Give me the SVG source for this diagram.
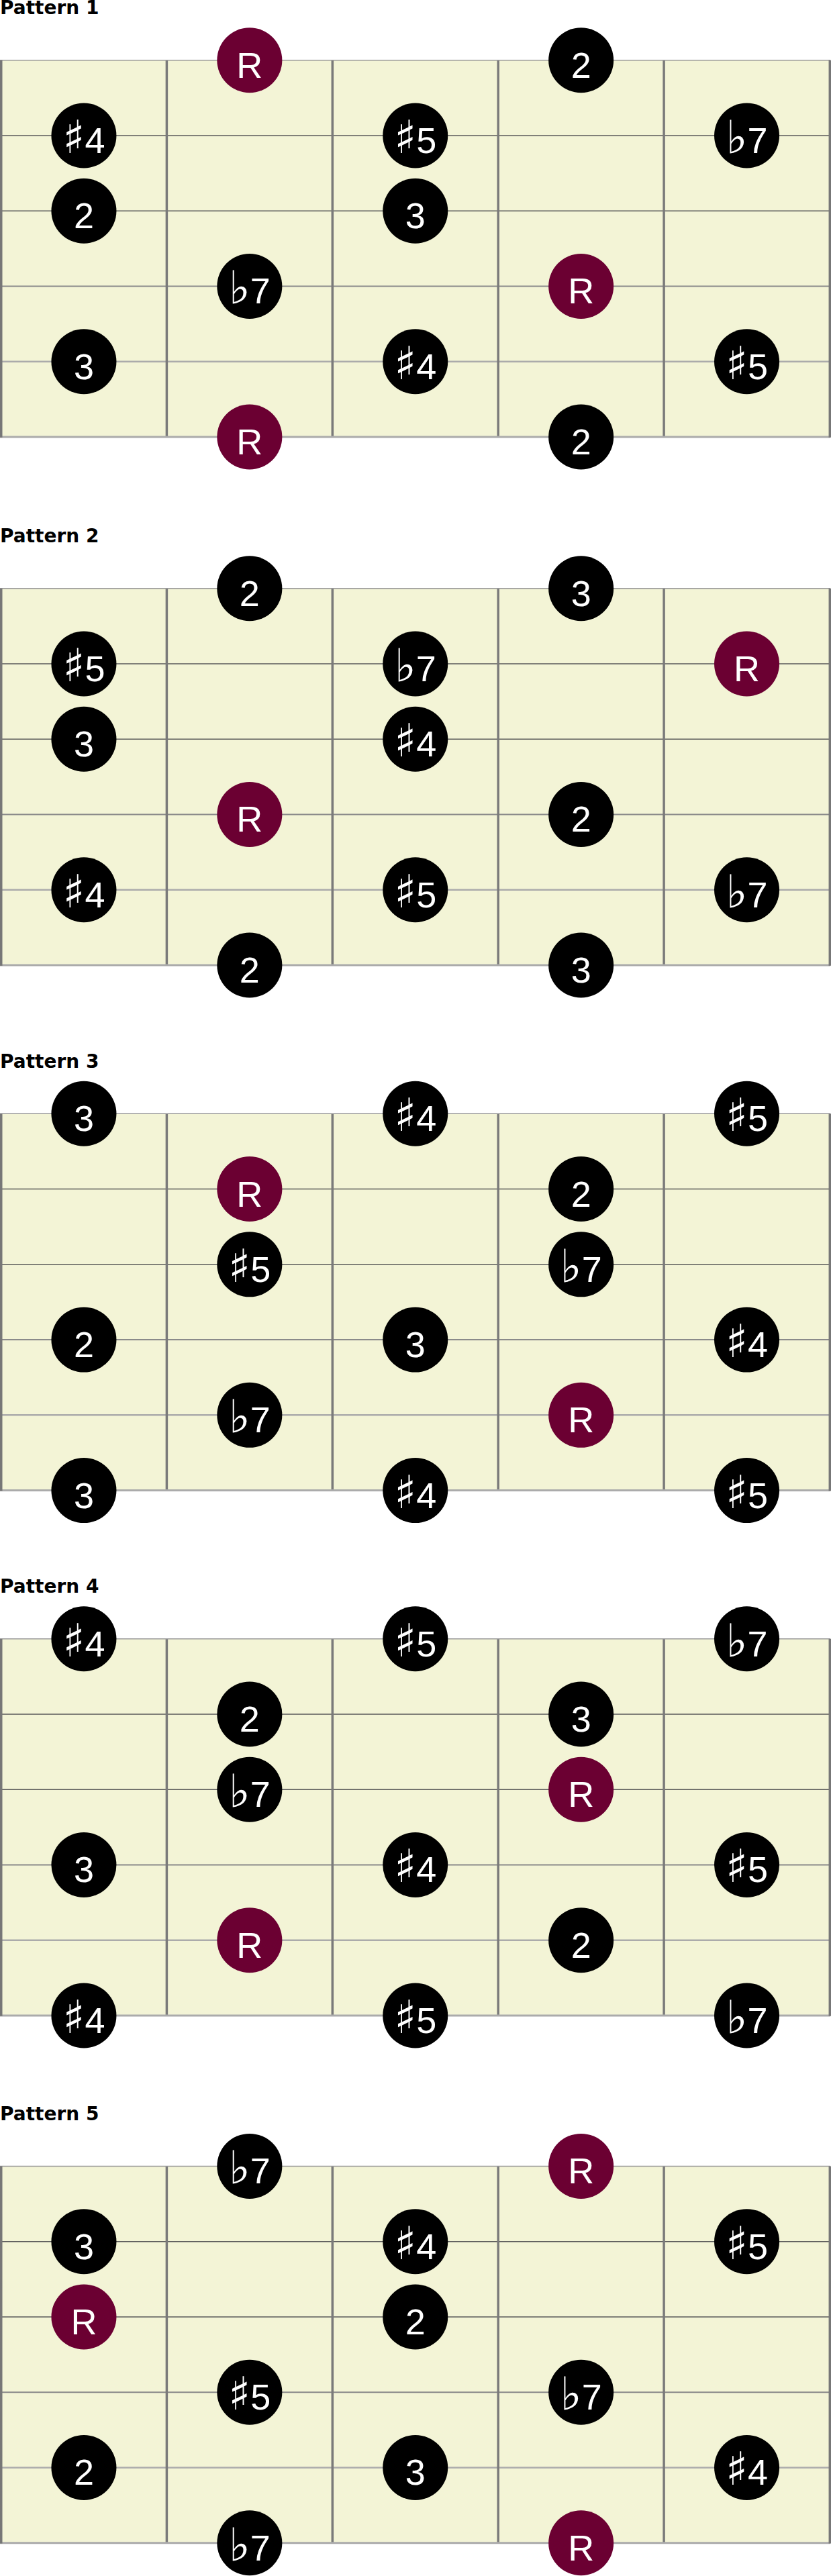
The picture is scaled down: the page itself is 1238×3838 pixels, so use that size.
<svg xmlns="http://www.w3.org/2000/svg" xmlns:xlink="http://www.w3.org/1999/xlink" width="1238" height="3838" viewBox="0 0 1238 3838">
<style>
.title{font-family:"DejaVu Sans","Verdana",sans-serif;font-weight:bold;font-size:28px;fill:#000}
.bg{fill:#F3F4D6}
.fret{stroke:#7A7A7A;stroke-width:3.5}
.edge{stroke:#777;stroke-width:3.5}
.s0{stroke:#999;stroke-width:1.5}
.s1{stroke:#5A5A5A;stroke-width:1.5}
.s2{stroke:#5A5A5A;stroke-width:1.5}
.s3{stroke:#8A8A8A;stroke-width:2}
.s4{stroke:#ABABAB;stroke-width:2.5}
.s5{stroke:#ABABAB;stroke-width:3}
.dot{fill:#000}
.root{fill:#6B0032}
.lbl{font-family:"Liberation Sans","DejaVu Sans",sans-serif;font-size:54px;fill:#fff;text-anchor:middle}
.acc{font-family:"DejaVu Sans",sans-serif;font-size:68px}
</style>
<defs>
<g id="board">
<rect class="bg" x="1.5" y="0" width="1234.5" height="561.3"/>
<line class="s1" x1="0" y1="112.26" x2="1236" y2="112.26"/>
<line class="s2" x1="0" y1="224.52" x2="1236" y2="224.52"/>
<line class="s3" x1="0" y1="336.78" x2="1236" y2="336.78"/>
<line class="s4" x1="0" y1="449.04" x2="1236" y2="449.04"/>
<line class="fret" x1="248.4" y1="0" x2="248.4" y2="561.3"/>
<line class="fret" x1="495.3" y1="0" x2="495.3" y2="561.3"/>
<line class="fret" x1="742.2" y1="0" x2="742.2" y2="561.3"/>
<line class="fret" x1="989.1" y1="0" x2="989.1" y2="561.3"/>
<line class="s0" x1="0" y1="0" x2="1237" y2="0"/>
<line class="s5" x1="0" y1="561.3" x2="1237" y2="561.3"/>
<line class="edge" x1="1.75" y1="0" x2="1.75" y2="562"/>
<line class="edge" x1="1236.3" y1="0" x2="1236.3" y2="562"/>
</g>
</defs>

<g id="pattern1" transform="translate(0,89.7)">
<text class="title" x="0" y="-68.5">Pattern 1</text>
<use xlink:href="#board" href="#board"/>
<g id="p1-n1"><circle class="root" cx="371.85" cy="0" r="48.5"/><text class="lbl" x="371.85" y="26">R</text></g>
<g id="p1-n2"><circle class="dot" cx="865.65" cy="0" r="48.5"/><text class="lbl" x="865.65" y="26">2</text></g>
<g id="p1-n3"><circle class="dot" cx="124.95" cy="112.26" r="48.5"/><text class="lbl" x="124.95" y="138.26"><tspan class="acc">♯</tspan>4</text></g>
<g id="p1-n4"><circle class="dot" cx="618.75" cy="112.26" r="48.5"/><text class="lbl" x="618.75" y="138.26"><tspan class="acc">♯</tspan>5</text></g>
<g id="p1-n5"><circle class="dot" cx="1112.55" cy="112.26" r="48.5"/><text class="lbl" x="1112.55" y="138.26"><tspan class="acc">♭</tspan>7</text></g>
<g id="p1-n6"><circle class="dot" cx="124.95" cy="224.52" r="48.5"/><text class="lbl" x="124.95" y="250.52">2</text></g>
<g id="p1-n7"><circle class="dot" cx="618.75" cy="224.52" r="48.5"/><text class="lbl" x="618.75" y="250.52">3</text></g>
<g id="p1-n8"><circle class="dot" cx="371.85" cy="336.78" r="48.5"/><text class="lbl" x="371.85" y="362.78"><tspan class="acc">♭</tspan>7</text></g>
<g id="p1-n9"><circle class="root" cx="865.65" cy="336.78" r="48.5"/><text class="lbl" x="865.65" y="362.78">R</text></g>
<g id="p1-n10"><circle class="dot" cx="124.95" cy="449.04" r="48.5"/><text class="lbl" x="124.95" y="475.04">3</text></g>
<g id="p1-n11"><circle class="dot" cx="618.75" cy="449.04" r="48.5"/><text class="lbl" x="618.75" y="475.04"><tspan class="acc">♯</tspan>4</text></g>
<g id="p1-n12"><circle class="dot" cx="1112.55" cy="449.04" r="48.5"/><text class="lbl" x="1112.55" y="475.04"><tspan class="acc">♯</tspan>5</text></g>
<g id="p1-n13"><circle class="root" cx="371.85" cy="561.3" r="48.5"/><text class="lbl" x="371.85" y="587.3">R</text></g>
<g id="p1-n14"><circle class="dot" cx="865.65" cy="561.3" r="48.5"/><text class="lbl" x="865.65" y="587.3">2</text></g>
</g>

<g id="pattern2" transform="translate(0,876.7)">
<text class="title" x="0" y="-68.5">Pattern 2</text>
<use xlink:href="#board" href="#board"/>
<g id="p2-n1"><circle class="dot" cx="371.85" cy="0" r="48.5"/><text class="lbl" x="371.85" y="26">2</text></g>
<g id="p2-n2"><circle class="dot" cx="865.65" cy="0" r="48.5"/><text class="lbl" x="865.65" y="26">3</text></g>
<g id="p2-n3"><circle class="dot" cx="124.95" cy="112.26" r="48.5"/><text class="lbl" x="124.95" y="138.26"><tspan class="acc">♯</tspan>5</text></g>
<g id="p2-n4"><circle class="dot" cx="618.75" cy="112.26" r="48.5"/><text class="lbl" x="618.75" y="138.26"><tspan class="acc">♭</tspan>7</text></g>
<g id="p2-n5"><circle class="root" cx="1112.55" cy="112.26" r="48.5"/><text class="lbl" x="1112.55" y="138.26">R</text></g>
<g id="p2-n6"><circle class="dot" cx="124.95" cy="224.52" r="48.5"/><text class="lbl" x="124.95" y="250.52">3</text></g>
<g id="p2-n7"><circle class="dot" cx="618.75" cy="224.52" r="48.5"/><text class="lbl" x="618.75" y="250.52"><tspan class="acc">♯</tspan>4</text></g>
<g id="p2-n8"><circle class="root" cx="371.85" cy="336.78" r="48.5"/><text class="lbl" x="371.85" y="362.78">R</text></g>
<g id="p2-n9"><circle class="dot" cx="865.65" cy="336.78" r="48.5"/><text class="lbl" x="865.65" y="362.78">2</text></g>
<g id="p2-n10"><circle class="dot" cx="124.95" cy="449.04" r="48.5"/><text class="lbl" x="124.95" y="475.04"><tspan class="acc">♯</tspan>4</text></g>
<g id="p2-n11"><circle class="dot" cx="618.75" cy="449.04" r="48.5"/><text class="lbl" x="618.75" y="475.04"><tspan class="acc">♯</tspan>5</text></g>
<g id="p2-n12"><circle class="dot" cx="1112.55" cy="449.04" r="48.5"/><text class="lbl" x="1112.55" y="475.04"><tspan class="acc">♭</tspan>7</text></g>
<g id="p2-n13"><circle class="dot" cx="371.85" cy="561.3" r="48.5"/><text class="lbl" x="371.85" y="587.3">2</text></g>
<g id="p2-n14"><circle class="dot" cx="865.65" cy="561.3" r="48.5"/><text class="lbl" x="865.65" y="587.3">3</text></g>
</g>

<g id="pattern3" transform="translate(0,1659.3)">
<text class="title" x="0" y="-68.5">Pattern 3</text>
<use xlink:href="#board" href="#board"/>
<g id="p3-n1"><circle class="dot" cx="124.95" cy="0" r="48.5"/><text class="lbl" x="124.95" y="26">3</text></g>
<g id="p3-n2"><circle class="dot" cx="618.75" cy="0" r="48.5"/><text class="lbl" x="618.75" y="26"><tspan class="acc">♯</tspan>4</text></g>
<g id="p3-n3"><circle class="dot" cx="1112.55" cy="0" r="48.5"/><text class="lbl" x="1112.55" y="26"><tspan class="acc">♯</tspan>5</text></g>
<g id="p3-n4"><circle class="root" cx="371.85" cy="112.26" r="48.5"/><text class="lbl" x="371.85" y="138.26">R</text></g>
<g id="p3-n5"><circle class="dot" cx="865.65" cy="112.26" r="48.5"/><text class="lbl" x="865.65" y="138.26">2</text></g>
<g id="p3-n6"><circle class="dot" cx="371.85" cy="224.52" r="48.5"/><text class="lbl" x="371.85" y="250.52"><tspan class="acc">♯</tspan>5</text></g>
<g id="p3-n7"><circle class="dot" cx="865.65" cy="224.52" r="48.5"/><text class="lbl" x="865.65" y="250.52"><tspan class="acc">♭</tspan>7</text></g>
<g id="p3-n8"><circle class="dot" cx="124.95" cy="336.78" r="48.5"/><text class="lbl" x="124.95" y="362.78">2</text></g>
<g id="p3-n9"><circle class="dot" cx="618.75" cy="336.78" r="48.5"/><text class="lbl" x="618.75" y="362.78">3</text></g>
<g id="p3-n10"><circle class="dot" cx="1112.55" cy="336.78" r="48.5"/><text class="lbl" x="1112.55" y="362.78"><tspan class="acc">♯</tspan>4</text></g>
<g id="p3-n11"><circle class="dot" cx="371.85" cy="449.04" r="48.5"/><text class="lbl" x="371.85" y="475.04"><tspan class="acc">♭</tspan>7</text></g>
<g id="p3-n12"><circle class="root" cx="865.65" cy="449.04" r="48.5"/><text class="lbl" x="865.65" y="475.04">R</text></g>
<g id="p3-n13"><circle class="dot" cx="124.95" cy="561.3" r="48.5"/><text class="lbl" x="124.95" y="587.3">3</text></g>
<g id="p3-n14"><circle class="dot" cx="618.75" cy="561.3" r="48.5"/><text class="lbl" x="618.75" y="587.3"><tspan class="acc">♯</tspan>4</text></g>
<g id="p3-n15"><circle class="dot" cx="1112.55" cy="561.3" r="48.5"/><text class="lbl" x="1112.55" y="587.3"><tspan class="acc">♯</tspan>5</text></g>
</g>

<g id="pattern4" transform="translate(0,2441.7)">
<text class="title" x="0" y="-68.5">Pattern 4</text>
<use xlink:href="#board" href="#board"/>
<g id="p4-n1"><circle class="dot" cx="124.95" cy="0" r="48.5"/><text class="lbl" x="124.95" y="26"><tspan class="acc">♯</tspan>4</text></g>
<g id="p4-n2"><circle class="dot" cx="618.75" cy="0" r="48.5"/><text class="lbl" x="618.75" y="26"><tspan class="acc">♯</tspan>5</text></g>
<g id="p4-n3"><circle class="dot" cx="1112.55" cy="0" r="48.5"/><text class="lbl" x="1112.55" y="26"><tspan class="acc">♭</tspan>7</text></g>
<g id="p4-n4"><circle class="dot" cx="371.85" cy="112.26" r="48.5"/><text class="lbl" x="371.85" y="138.26">2</text></g>
<g id="p4-n5"><circle class="dot" cx="865.65" cy="112.26" r="48.5"/><text class="lbl" x="865.65" y="138.26">3</text></g>
<g id="p4-n6"><circle class="dot" cx="371.85" cy="224.52" r="48.5"/><text class="lbl" x="371.85" y="250.52"><tspan class="acc">♭</tspan>7</text></g>
<g id="p4-n7"><circle class="root" cx="865.65" cy="224.52" r="48.5"/><text class="lbl" x="865.65" y="250.52">R</text></g>
<g id="p4-n8"><circle class="dot" cx="124.95" cy="336.78" r="48.5"/><text class="lbl" x="124.95" y="362.78">3</text></g>
<g id="p4-n9"><circle class="dot" cx="618.75" cy="336.78" r="48.5"/><text class="lbl" x="618.75" y="362.78"><tspan class="acc">♯</tspan>4</text></g>
<g id="p4-n10"><circle class="dot" cx="1112.55" cy="336.78" r="48.5"/><text class="lbl" x="1112.55" y="362.78"><tspan class="acc">♯</tspan>5</text></g>
<g id="p4-n11"><circle class="root" cx="371.85" cy="449.04" r="48.5"/><text class="lbl" x="371.85" y="475.04">R</text></g>
<g id="p4-n12"><circle class="dot" cx="865.65" cy="449.04" r="48.5"/><text class="lbl" x="865.65" y="475.04">2</text></g>
<g id="p4-n13"><circle class="dot" cx="124.95" cy="561.3" r="48.5"/><text class="lbl" x="124.95" y="587.3"><tspan class="acc">♯</tspan>4</text></g>
<g id="p4-n14"><circle class="dot" cx="618.75" cy="561.3" r="48.5"/><text class="lbl" x="618.75" y="587.3"><tspan class="acc">♯</tspan>5</text></g>
<g id="p4-n15"><circle class="dot" cx="1112.55" cy="561.3" r="48.5"/><text class="lbl" x="1112.55" y="587.3"><tspan class="acc">♭</tspan>7</text></g>
</g>

<g id="pattern5" transform="translate(0,3227.4)">
<text class="title" x="0" y="-68.5">Pattern 5</text>
<use xlink:href="#board" href="#board"/>
<g id="p5-n1"><circle class="dot" cx="371.85" cy="0" r="48.5"/><text class="lbl" x="371.85" y="26"><tspan class="acc">♭</tspan>7</text></g>
<g id="p5-n2"><circle class="root" cx="865.65" cy="0" r="48.5"/><text class="lbl" x="865.65" y="26">R</text></g>
<g id="p5-n3"><circle class="dot" cx="124.95" cy="112.26" r="48.5"/><text class="lbl" x="124.95" y="138.26">3</text></g>
<g id="p5-n4"><circle class="dot" cx="618.75" cy="112.26" r="48.5"/><text class="lbl" x="618.75" y="138.26"><tspan class="acc">♯</tspan>4</text></g>
<g id="p5-n5"><circle class="dot" cx="1112.55" cy="112.26" r="48.5"/><text class="lbl" x="1112.55" y="138.26"><tspan class="acc">♯</tspan>5</text></g>
<g id="p5-n6"><circle class="root" cx="124.95" cy="224.52" r="48.5"/><text class="lbl" x="124.95" y="250.52">R</text></g>
<g id="p5-n7"><circle class="dot" cx="618.75" cy="224.52" r="48.5"/><text class="lbl" x="618.75" y="250.52">2</text></g>
<g id="p5-n8"><circle class="dot" cx="371.85" cy="336.78" r="48.5"/><text class="lbl" x="371.85" y="362.78"><tspan class="acc">♯</tspan>5</text></g>
<g id="p5-n9"><circle class="dot" cx="865.65" cy="336.78" r="48.5"/><text class="lbl" x="865.65" y="362.78"><tspan class="acc">♭</tspan>7</text></g>
<g id="p5-n10"><circle class="dot" cx="124.95" cy="449.04" r="48.5"/><text class="lbl" x="124.95" y="475.04">2</text></g>
<g id="p5-n11"><circle class="dot" cx="618.75" cy="449.04" r="48.5"/><text class="lbl" x="618.75" y="475.04">3</text></g>
<g id="p5-n12"><circle class="dot" cx="1112.55" cy="449.04" r="48.5"/><text class="lbl" x="1112.55" y="475.04"><tspan class="acc">♯</tspan>4</text></g>
<g id="p5-n13"><circle class="dot" cx="371.85" cy="561.3" r="48.5"/><text class="lbl" x="371.85" y="587.3"><tspan class="acc">♭</tspan>7</text></g>
<g id="p5-n14"><circle class="root" cx="865.65" cy="561.3" r="48.5"/><text class="lbl" x="865.65" y="587.3">R</text></g>
</g>

<g id="connectors"/>
</svg>
